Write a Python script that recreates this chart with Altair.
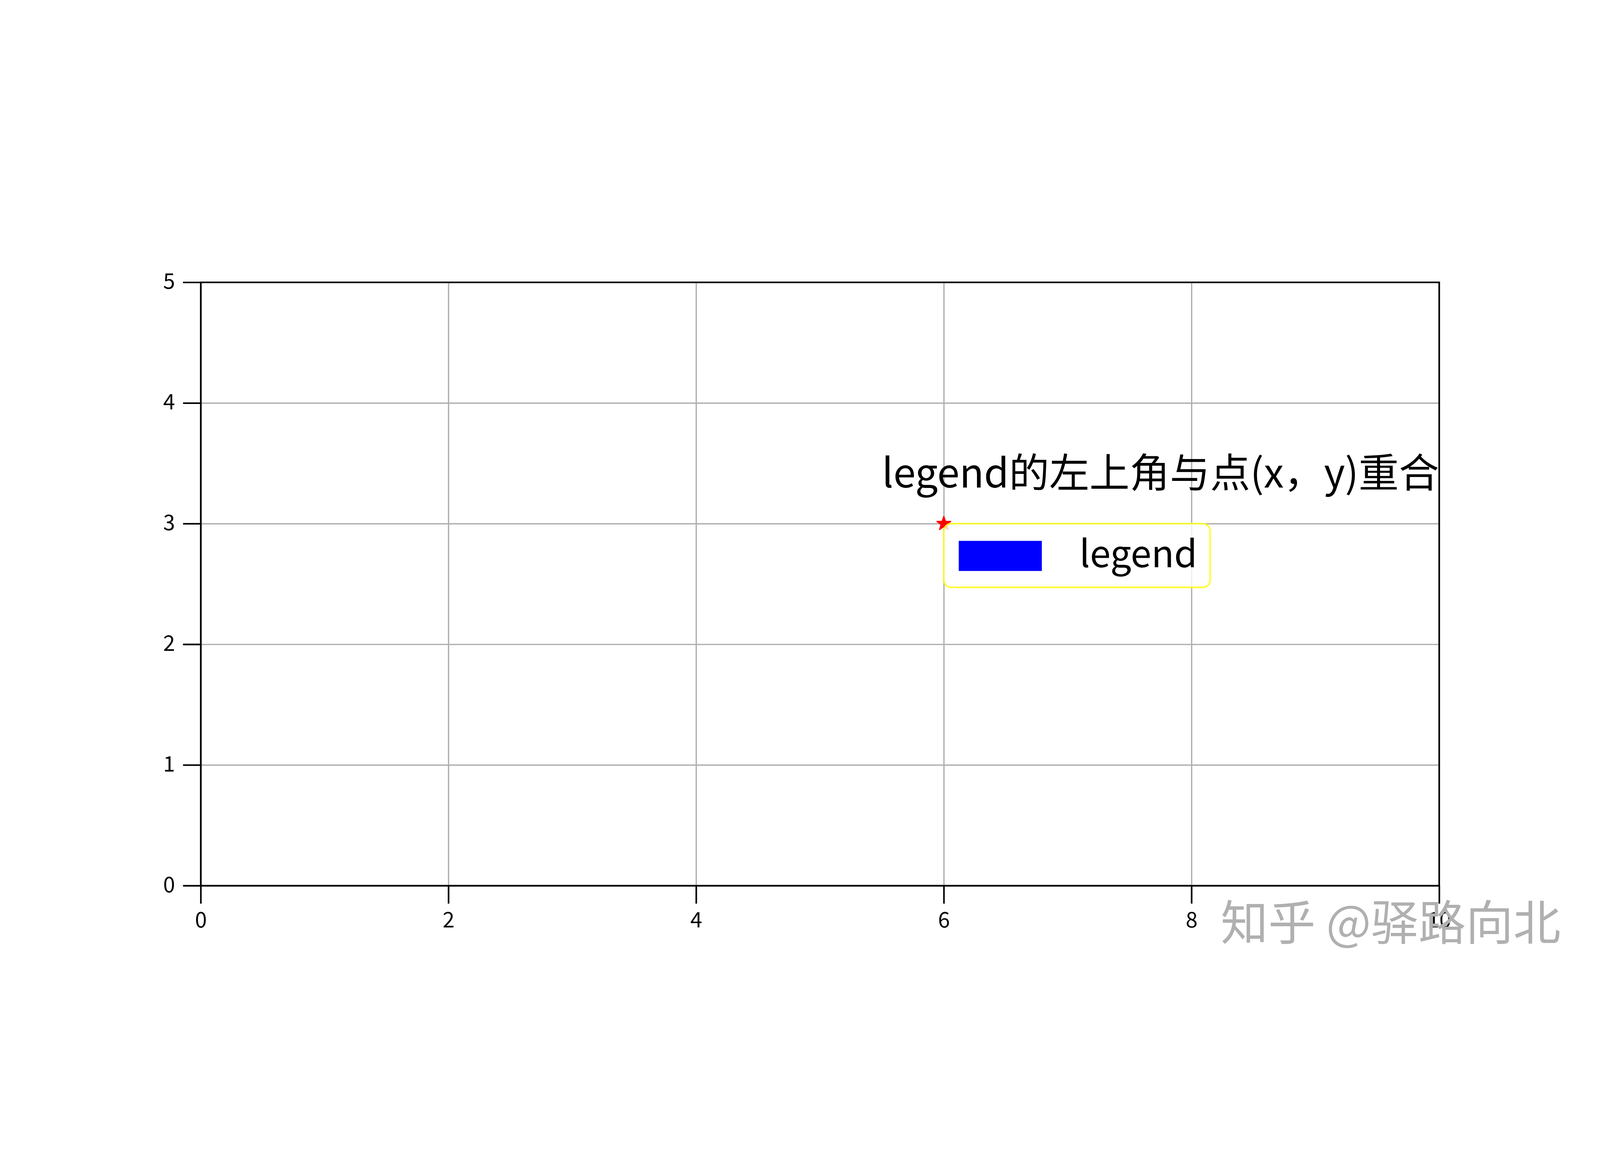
import math
import altair as alt
import pandas as pd

# ---------------- data ----------------
x_domain = [0, 10]
y_domain = [0, 5]
x_ticks = [0, 2, 4, 6, 8, 10]
y_ticks = [0, 1, 2, 3, 4, 5]

anchor_x = [6]          # red star = legend's upper-left corner
anchor_y = [3]

note_x = [5.5]
note_y = [3.3]
note_text = ["legend的左上角与点(x，y)重合"]

series_names = ["legend"]
series_colors = ["blue"]

watermark = ["知乎 @驿路向北"]

# ---------------- layout / style ----------------
W, H = 4650, 2265
FONT = "Noto Sans CJK SC"
GRID = "#b0b0b0"

# five-pointed star path (unit box)
pts = []
for k in range(10):
    r = 1.0 if k % 2 == 0 else 0.40
    a = math.radians(-90 + 36 * k)
    pts.append((r * math.cos(a), r * math.sin(a)))
star_path = "M" + " L".join(f"{px:.4f},{py:.4f}" for px, py in pts) + " Z"

# wide legend patch, drawn relative to a 146px symbol cell
patch_path = "M-0.89,-0.774 L3.384,-0.774 L3.384,0.774 L-0.89,0.774 Z"

xs = alt.Scale(domain=x_domain, nice=False, zero=False)
ys = alt.Scale(domain=y_domain, nice=False, zero=False)

axis_common = dict(
    title=None, grid=True, gridColor=GRID, gridWidth=5,
    tickSize=67, tickWidth=6, tickColor="black",
    domainColor="black", domainWidth=6,
    labelFontSize=80, labelFont=FONT, labelColor="black",
    labelFlush=False, labelOverlap=False, format="d",
)
x_axis = alt.Axis(values=x_ticks, labelPadding=26, **axis_common)
y_axis = alt.Axis(values=y_ticks, labelPadding=30, **axis_common)

df_frame = pd.DataFrame({"x0": [x_domain[0]], "x1": [x_domain[1]],
                         "y0": [y_domain[0]], "y1": [y_domain[1]]})
df_anchor = pd.DataFrame({"x": anchor_x, "y": anchor_y})
df_note = pd.DataFrame({"x": note_x, "y": note_y, "t": note_text})
df_series = pd.DataFrame({"series": series_names})
df_mark = pd.DataFrame({"t": watermark})

base_axes = alt.Chart(df_frame).mark_rect(
    fill=None, fillOpacity=0, stroke="black", strokeWidth=6,
).encode(
    x=alt.X("x0:Q", scale=xs, axis=x_axis),
    x2="x1:Q",
    y=alt.Y("y0:Q", scale=ys, axis=y_axis),
    y2="y1:Q",
)

star = alt.Chart(df_anchor).mark_point(
    shape=star_path, filled=True, color="red", size=3000,
    opacity=1, stroke="red", strokeWidth=4, strokeJoin="round",
).encode(
    x=alt.X("x:Q", scale=xs),
    y=alt.Y("y:Q", scale=ys),
)

note = alt.Chart(df_note).mark_text(
    align="left", baseline="alphabetic", fontSize=151, font=FONT, color="black",
).encode(
    x=alt.X("x:Q", scale=xs),
    y=alt.Y("y:Q", scale=ys),
    text="t:N",
)

legend_x = W * (anchor_x[0] - x_domain[0]) / (x_domain[1] - x_domain[0])
legend_y = H * (y_domain[1] - anchor_y[0]) / (y_domain[1] - y_domain[0])

legend_layer = alt.Chart(df_series).transform_filter("false").mark_bar().encode(
    color=alt.Color(
        "series:N",
        scale=alt.Scale(domain=series_names, range=series_colors),
        legend=alt.Legend(
            title=None, orient="none", legendX=legend_x, legendY=legend_y,
            padding=48, cornerRadius=27,
            strokeColor="rgba(255,255,0,0.8)", fillColor="rgba(255,255,255,0.8)",
            symbolType=patch_path, symbolSize=146 ** 2, symbolStrokeWidth=0,
            symbolOpacity=1,
            labelFontSize=140, labelFont=FONT, labelColor="black",
            labelOffset=315, labelLimit=2000,
        ),
    )
)

wm = alt.Chart(df_mark).mark_text(
    align="right", baseline="alphabetic", fontSize=178, font=FONT,
    color="#b0b0b0",
).encode(
    x=alt.value(W + 456),
    y=alt.value(H + 204),
    text="t:N",
)

chart = alt.layer(base_axes, star, note, legend_layer, wm).properties(
    width=W, height=H,
    autosize=alt.AutoSizeParams(type="none"),
    padding={"left": 742, "top": 352, "right": 592, "bottom": 367},
).configure_view(
    stroke=None,
).configure_legend(
    strokeWidth=6,
)

chart.save("out.html", embed_options={"renderer": "svg", "actions": False})
